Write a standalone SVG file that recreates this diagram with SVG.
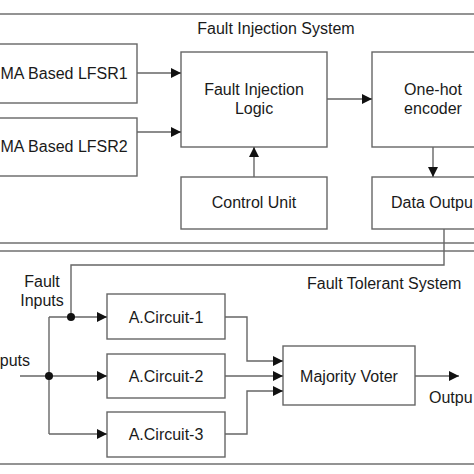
<svg xmlns="http://www.w3.org/2000/svg" width="474" height="474" viewBox="0 0 474 474">
<style>
.box{fill:#fff;stroke:#666;stroke-width:1.4}
.frame{fill:none;stroke:#666;stroke-width:1.4}
.ln{fill:none;stroke:#666;stroke-width:1.4}
text{font-family:"Liberation Sans",Arial,sans-serif;font-size:16px;fill:#1a1a1a}
.c{text-anchor:middle}
</style>
<defs>
<marker id="ah" viewBox="0 0 10 10" refX="10" refY="5" markerUnits="userSpaceOnUse" markerWidth="11" markerHeight="10" orient="auto">
<path d="M0,0 L10,5 L0,10 z" fill="#111"/>
</marker>
</defs>
<rect width="474" height="474" fill="#fff"/>
<g id="fault-injection-system">
<rect class="frame" x="-10" y="14" width="500" height="229"/>
<text class="c" x="276" y="34">Fault Injection System</text>
</g>
<g id="fault-tolerant-system">
<rect class="frame" x="-10" y="251" width="500" height="213"/>
<text x="307" y="289">Fault Tolerant System</text>
</g>
<g id="lfsr1">
<rect class="box" x="-10" y="44" width="147" height="59"/>
<text x="0.5" y="79">MA Based LFSR1</text>
</g>
<g id="lfsr2">
<rect class="box" x="-10" y="118" width="147" height="58"/>
<text x="0.5" y="152">MA Based LFSR2</text>
</g>
<g id="fault-injection-logic">
<rect class="box" x="181" y="52" width="146" height="95"/>
<text class="c" x="254" y="95">Fault Injection</text>
<text class="c" x="254" y="114">Logic</text>
</g>
<g id="one-hot-encoder">
<rect class="box" x="372" y="52" width="120" height="95"/>
<text class="c" x="433" y="95">One-hot</text>
<text class="c" x="433" y="114">encoder</text>
</g>
<g id="control-unit">
<rect class="box" x="181" y="177" width="146" height="52"/>
<text class="c" x="254" y="208">Control Unit</text>
</g>
<g id="data-output">
<rect class="box" x="372" y="177" width="120" height="52"/>
<text x="391" y="208">Data Outpu</text>
</g>
<g id="a-circuit-1">
<rect class="box" x="107" y="294" width="118" height="45"/>
<text class="c" x="166" y="323">A.Circuit-1</text>
</g>
<g id="a-circuit-2">
<rect class="box" x="107" y="354" width="118" height="44"/>
<text class="c" x="166" y="382">A.Circuit-2</text>
</g>
<g id="a-circuit-3">
<rect class="box" x="107" y="412" width="118" height="45"/>
<text class="c" x="166" y="440">A.Circuit-3</text>
</g>
<g id="majority-voter">
<rect class="box" x="283" y="346" width="132" height="59"/>
<text class="c" x="349" y="382">Majority Voter</text>
</g>
<g id="labels">
<text class="c" x="42" y="287">Fault</text>
<text class="c" x="42" y="306">Inputs</text>
<text x="30" y="366" text-anchor="end">puts</text>
<text x="429" y="403">Outpu</text>
</g>
<g id="connectors">
<path class="ln" d="M137,73 H181" marker-end="url(#ah)"/>
<path class="ln" d="M137,132 H181" marker-end="url(#ah)"/>
<path class="ln" d="M327,99 H372" marker-end="url(#ah)"/>
<path class="ln" d="M254,177 V147" marker-end="url(#ah)"/>
<path class="ln" d="M433,147 V177" marker-end="url(#ah)"/>
<path class="ln" d="M444,229 V265 H71 V317"/>
<path class="ln" d="M20,376 H107" marker-end="url(#ah)"/>
<path class="ln" d="M49,317 V434"/>
<path class="ln" d="M49,317 H107" marker-end="url(#ah)"/>
<path class="ln" d="M49,434 H107" marker-end="url(#ah)"/>
<path class="ln" d="M225,317 H247 V361 H283" marker-end="url(#ah)"/>
<path class="ln" d="M225,376 H283" marker-end="url(#ah)"/>
<path class="ln" d="M225,434 H247 V391 H283" marker-end="url(#ah)"/>
<path class="ln" d="M415,376 H459" marker-end="url(#ah)"/>
<circle cx="71" cy="317" r="4" fill="#111"/>
<circle cx="49" cy="376" r="4" fill="#111"/>
</g>
</svg>
